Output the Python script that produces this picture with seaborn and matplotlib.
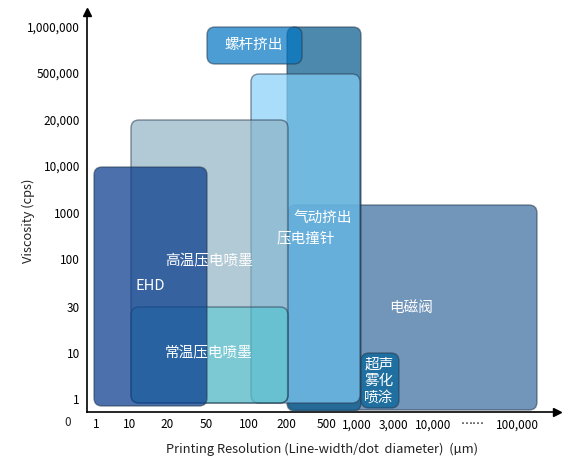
import numpy as np
import matplotlib
matplotlib.use("Agg")
import matplotlib.pyplot as plt
from matplotlib.patches import FancyBboxPatch
from matplotlib.colors import to_rgba
import seaborn as sns

sns.set_theme(style="white")
plt.rcParams['font.family'] = ['Noto Sans CJK SC', 'DejaVu Sans']

# ---- data ----
x_labels = ['1', '10', '20', '50', '100', '200', '500', '1,000', '3,000', '10,000', '……', '100,000']
y_labels = ['1', '10', '30', '100', '1000', '10,000', '20,000', '500,000', '1,000,000']

methods = ['电磁阀', '螺杆挤出', '气动挤出/压电撞针', '高温压电喷墨', '常温压电喷墨', 'EHD', '超声雾化喷涂']
res_lo = ['200', '200', '100', '10', '10', '1', '1,000']
res_hi = ['100,000', '1,000', '1,000', '200', '200', '50', '3,000']
visc_lo = ['1', '1', '1', '1', '1', '1', '1']
visc_hi = ['1000', '1,000,000', '500,000', '20,000', '30', '10,000', '10']

# ---- layout ----
# tick positions on the (hand drawn, non uniform) category axes
x_pos = [9, 43, 80, 119, 162, 199, 240, 270, 306, 346, 386, 430]
y_pos = [12.5, 58.5, 104.5, 152.5, 198.5, 245.5, 291.5, 338.5, 384.5]
xmap = dict(zip(x_labels, x_pos))
ymap = dict(zip(y_labels, y_pos))

# pads (left, right, bottom, top) around the tick range, colours, alpha
pads = [(-2, 20, 11, 8), (-1, 4, 12, 0), (-2, 3, 4, -1), (-1, 2, 4, 0),
        (-1, 2, 4, 0), (2, 1, 7, -1), (-4, 6, 9, 0)]
colors = ['#7295BA', '#095C8C', '#84CFF8', '#89AEC0', '#00C8CD', '#0E408F', '#1F6FA0']
alphas = [1.0, 0.72, 0.69, 0.65, 0.30, 0.75, 1.0]
edge = (0.15, 0.22, 0.30, 0.55)

fig = plt.figure(figsize=(5.7, 4.66), dpi=100)
W, H = 570, 466
ax = fig.add_axes([87 / W, (H - 411.5) / H, (557 - 87) / W, (411.5 - 12) / H])
ax.set_xlim(0, 470)
ax.set_ylim(0, 399.5)


def rbox(x0, x1, y0, y1, fc, a, z):
    p = FancyBboxPatch((x0, y0), x1 - x0, y1 - y0,
                       boxstyle='round,pad=0,rounding_size=8',
                       facecolor=to_rgba(fc, a), edgecolor=edge, lw=1, zorder=z)
    ax.add_patch(p)


for i, m in enumerate(methods):
    lp, rp, bp, tp = pads[i]
    rbox(xmap[res_lo[i]] - lp, xmap[res_hi[i]] + rp,
         ymap[visc_lo[i]] - bp, ymap[visc_hi[i]] + tp,
         colors[i], alphas[i], 2 + i)

# label plate for screw extrusion
rbox(xmap['50'] + 1, xmap['200'] + 16, ymap['500,000'] + 9, ymap['1,000,000'],
     '#0074C2', 0.7, 10)

txt = dict(color='white', fontsize=10.5, ha='center', va='center', zorder=20)
ax.text(167, 366.5, '螺杆挤出', **txt)
ax.text(122, 150.5, '高温压电喷墨', **txt)
ax.text(63, 125.5, 'EHD', **txt)
ax.text(122, 58.5, '常温压电喷墨', **txt)
ax.text(236, 193.5, '气动挤出', **txt)
ax.text(219, 173.5, '压电撞针', **txt)
ax.text(324, 103.5, '电磁阀', **txt)
ax.text(292, 30.5, '超声\n雾化\n喷涂', linespacing=1.2, **txt)

ax.set_xticks(x_pos)
ax.set_xticklabels(x_labels, fontsize=8.5)
ax.set_yticks(y_pos)
ax.set_yticklabels(y_labels, fontsize=8.5)
ax.tick_params(length=0, pad=5, colors='black')
ax.text(-19, -11.5, '0', fontsize=8.5, ha='center', va='center', clip_on=False)

ax.set_xlabel('Printing Resolution (Line-width/dot  diameter)  (µm)', fontsize=9.3,
              color='#222222', labelpad=8)
ax.set_ylabel('Viscosity (cps)', fontsize=9.3, color='#222222')
ax.yaxis.set_label_coords(-0.11, 0.477)

sns.despine(ax=ax)
for s in ['left', 'bottom']:
    ax.spines[s].set_color('black')
    ax.spines[s].set_linewidth(1.2)
ax.plot(0, 1, marker='^', color='black', markersize=6, transform=ax.transAxes, clip_on=False)
ax.plot(1, 0, marker='>', color='black', markersize=6, transform=ax.transAxes, clip_on=False)
ax.grid(False)

fig.savefig('out.png', dpi=100)
